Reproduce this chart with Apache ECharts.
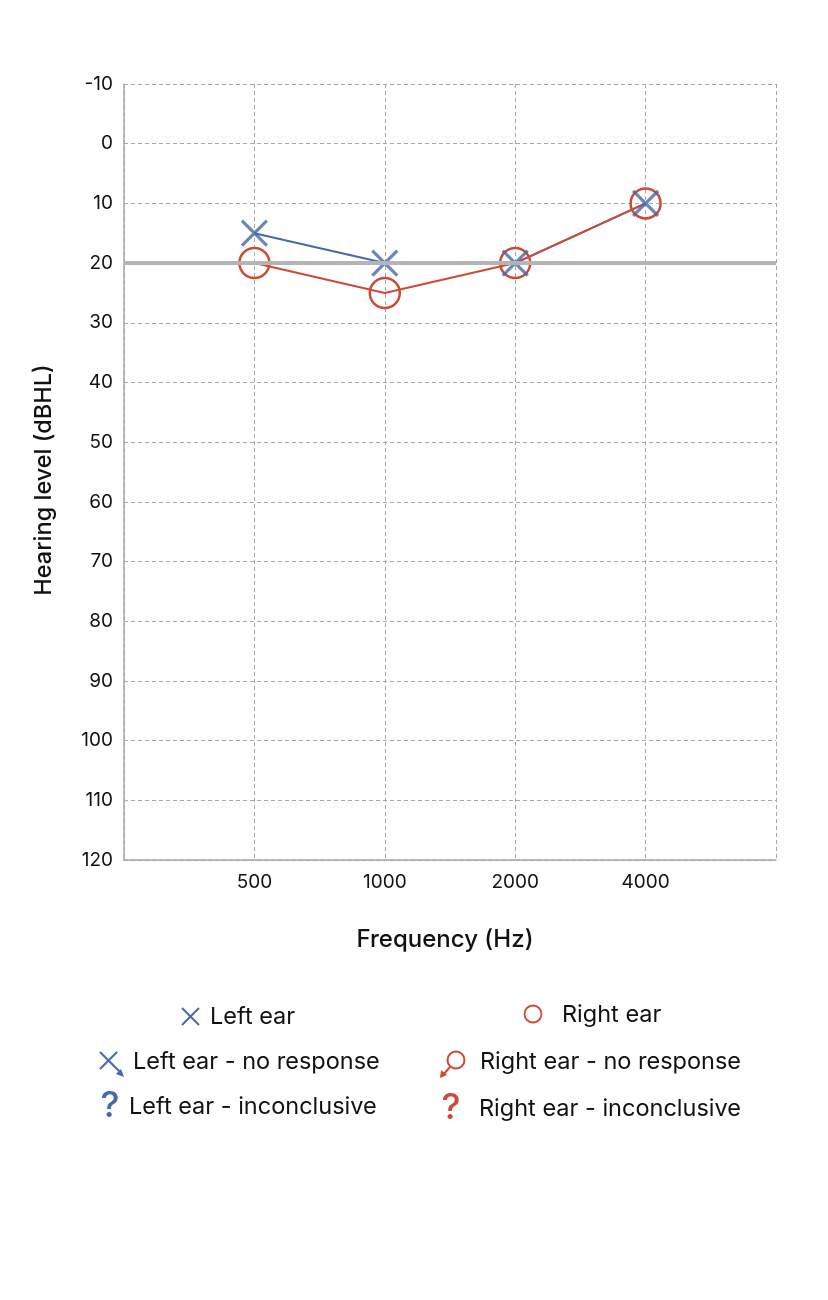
<!DOCTYPE html>
<html><head><meta charset="utf-8">
<script src="https://cdn.jsdelivr.net/npm/echarts@6/dist/echarts.min.js"></script>
<style>html,body{margin:0;padding:0;background:#fff}#c{width:828px;height:1300px}</style>
</head><body><div id="c"></div>
<script>
const frequencies = ['500', '1000', '2000', '4000'];
const leftEar = [15, 20, 20, 10];
const rightEar = [20, 25, 20, 10];
const referenceLevel = 20;
const yMin = -10, yMax = 120, yStep = 10;

const BLUE = '#4569ab', RED = '#cc4a36', GRID = '#a8a8a8';
const FONT = 'Inter, Roboto, sans-serif';
const axisCats = [''].concat(frequencies, ['']);
const pad = arr => ['-'].concat(arr, ['-']);
const XPATH = 'path://M0,0L10,10M10,0L0,10';

const chart = echarts.init(document.getElementById('c'), null, {renderer: 'canvas'});
const lt = (text, x, y) => ({type: 'text', x: x, y: y, style: {text: text, fontFamily: FONT, fontSize: 23.5, fill: '#111', verticalAlign: 'middle'}});
chart.setOption({
  animation: false,
  grid: {left: 124, right: 52, top: 84, bottom: 440},
  xAxis: {
    type: 'category', data: axisCats, boundaryGap: false,
    name: 'Frequency (Hz)', nameLocation: 'middle', nameGap: 68,
    nameTextStyle: {fontFamily: FONT, fontSize: 24, fontWeight: 500, color: '#111', padding: [0, 10, 0, 0]},
    axisLine: {onZero: false, lineStyle: {color: GRID, width: 1.5}},
    axisTick: {show: false},
    axisLabel: {fontFamily: FONT, fontSize: 19, color: '#111', margin: 13, interval: 0},
    splitLine: {show: true, lineStyle: {color: GRID, type: [4, 3], width: 1}}
  },
  yAxis: {
    type: 'value', inverse: true, min: yMin, max: yMax, interval: yStep,
    name: 'Hearing level (dBHL)', nameLocation: 'middle', nameGap: 68, nameRotate: 90,
    nameTextStyle: {fontFamily: FONT, fontSize: 23.5, fontWeight: 500, color: '#111', padding: [0, 16, 0, 0]},
    axisLine: {show: true, lineStyle: {color: GRID, width: 1.5}},
    axisTick: {show: false},
    axisLabel: {fontFamily: FONT, fontSize: 19, color: '#111', margin: 11},
    splitLine: {show: true, lineStyle: {color: GRID, type: [4, 3], width: 1}}
  },
  series: [
    {
      type: 'line', data: pad(leftEar), z: 2, symbol: 'none',
      lineStyle: {color: BLUE, width: 2},
      markLine: {
        silent: true, symbol: 'none', label: {show: false},
        lineStyle: {color: '#b4b4b6', width: 4, type: 'solid'},
        data: [{yAxis: referenceLevel}]
      }
    },
    {
      type: 'line', data: pad(rightEar), z: 3,
      symbol: 'circle', symbolSize: 30,
      lineStyle: {color: RED, width: 2},
      itemStyle: {color: 'rgba(0,0,0,0)', borderColor: RED, borderWidth: 2.5}
    },
    {
      type: 'scatter', data: pad(leftEar), z: 4,
      symbol: XPATH, symbolSize: 25,
      itemStyle: {color: 'rgba(0,0,0,0)', borderColor: BLUE, borderWidth: 3.2}
    }
  ],
  graphic: [
    {type: 'polyline', shape: {points: [[182,1008],[199,1025]]}, style: {stroke: BLUE, lineWidth: 2, fill: null}},
    {type: 'polyline', shape: {points: [[199,1008],[182,1025]]}, style: {stroke: BLUE, lineWidth: 2, fill: null}},
    lt('Left ear', 210, 1017),

    {type: 'polyline', shape: {points: [[100,1052],[122,1074]]}, style: {stroke: BLUE, lineWidth: 2, fill: null}},
    {type: 'polyline', shape: {points: [[117,1052],[100,1069]]}, style: {stroke: BLUE, lineWidth: 2, fill: null}},
    {type: 'polygon', shape: {points: [[124,1077],[116,1074],[121,1069]]}, style: {fill: BLUE}},
    lt('Left ear - no response', 133, 1062),

    {type: 'text', x: 110, y: 1106, style: {text: '?', fontFamily: FONT, fontSize: 36, fontWeight: 500, fill: BLUE, align: 'center', verticalAlign: 'middle'}},
    lt('Left ear - inconclusive', 129, 1107),

    {type: 'circle', shape: {cx: 533, cy: 1014, r: 8.5}, style: {stroke: RED, lineWidth: 1.8, fill: null}},
    lt('Right ear', 562, 1015),

    {type: 'circle', shape: {cx: 456, cy: 1060, r: 8.5}, style: {stroke: RED, lineWidth: 2, fill: null}},
    {type: 'polyline', shape: {points: [[450,1067],[443,1075]]}, style: {stroke: RED, lineWidth: 2, fill: null}},
    {type: 'polygon', shape: {points: [[440,1078],[441,1070],[447,1075]]}, style: {fill: RED}},
    lt('Right ear - no response', 480, 1062),

    {type: 'text', x: 451, y: 1108, style: {text: '?', fontFamily: FONT, fontSize: 36, fontWeight: 500, fill: RED, align: 'center', verticalAlign: 'middle'}},
    lt('Right ear - inconclusive', 479, 1109)
  ]
});
</script>
</body></html>
